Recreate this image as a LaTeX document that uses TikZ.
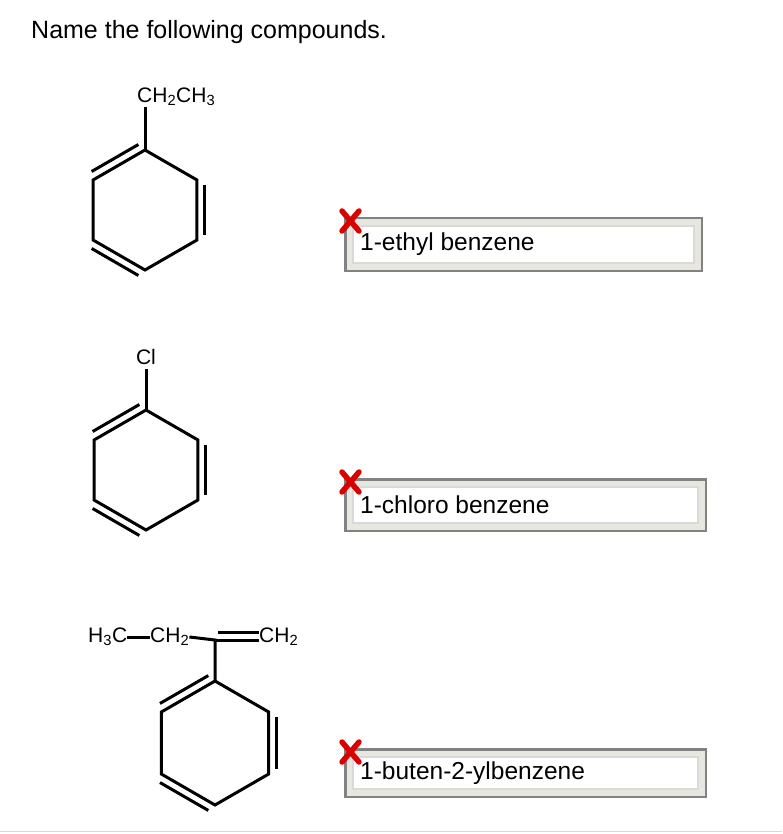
\documentclass[tikz,border=0pt]{standalone}
\usepackage{fontspec}
\setmainfont{Liberation Sans}
\usetikzlibrary{calc}
\begin{document}
\begin{tikzpicture}[x=1pt,y=-1pt,
  bond/.style={line width=3pt},
  lbl/.style={inner sep=0pt,font=\fontsize{21}{24}\selectfont},
  ans/.style={anchor=west,inner sep=0pt,font=\fontsize{24.5}{27}\selectfont},
  xmark/.style={line width=5.5pt,red!85!black,line cap=round}]
\useasboundingbox (0,0) rectangle (782,834);
\fill[white] (0,0) rectangle (782,834);
\node[anchor=west,inner sep=0pt,font=\fontsize{25}{28}\selectfont] (title) at (31,32) {Name the following compounds.};
\draw[gray!30,line width=1pt] (0,831) -- (782,831);
\foreach \cx/\cy/\r/\nm in {145/210/60/a,146/470/60/b,215/743/62/c}{
  \coordinate (\nm1) at (\cx,\cy-\r);
  \coordinate (\nm2) at (\cx+0.866*\r,\cy-0.5*\r);
  \coordinate (\nm3) at (\cx+0.866*\r,\cy+0.5*\r);
  \coordinate (\nm4) at (\cx,\cy+\r);
  \coordinate (\nm5) at (\cx-0.866*\r,\cy+0.5*\r);
  \coordinate (\nm6) at (\cx-0.866*\r,\cy-0.5*\r);
  \draw[bond,line join=miter] (\nm1)--(\nm2)--(\nm3)--(\nm4)--(\nm5)--(\nm6)--cycle;
  \draw[bond] ($(\nm6)!0.05!(\nm1)+(-4,-7)$) -- ($(\nm6)!0.95!(\nm1)+(-4,-7)$);
  \draw[bond] ($(\nm2)!0.08!(\nm3)+(8,0)$) -- ($(\nm2)!0.92!(\nm3)+(8,0)$);
  \draw[bond] ($(\nm4)!0.05!(\nm5)+(-4,7)$) -- ($(\nm4)!0.95!(\nm5)+(-4,7)$);
}
\node[lbl,anchor=west] (s1) at (137,97) {CH\textsubscript{2}CH\textsubscript{3}};
\draw[bond] (a1) -- (145,107);
\node[lbl] (s2) at (146,357) {Cl};
\draw[bond] (b1) -- (146,369);
\node[lbl,anchor=west] (h3c) at (88,637) {H\textsubscript{3}C};
\node[lbl,anchor=west] (ch2a) at (150,637) {CH\textsubscript{2}};
\node[lbl,anchor=west] (ch2b) at (259,637) {CH\textsubscript{2}};
\coordinate (v) at (215,640);
\draw[bond] (h3c.east) -- (ch2a.west);
\draw[bond] (ch2a.east) -- (v) -- (c1);
\draw[bond] (v) -- (ch2b.west |- v);
\draw[bond] (218,632) -- (ch2b.west |- 0,632);
\foreach \yt/\yb/\xr/\txt/\nm in {217/272/703/1-ethyl benzene/A,478/532/707/1-chloro benzene/B,748/798/707/1-buten-2-ylbenzene/C}{
  \fill[gray!60!black!70] (344,\yt) rectangle (\xr,\yb);
  \fill[yellow!15!gray!25] (346.5,\yt+2.5) rectangle (\xr-2.5,\yb-2.5);
  \fill[gray!30] (352,\yt+8) rectangle (\xr-8,\yb-8);
  \fill[white] (354,\yt+10) rectangle (\xr-10,\yb-10);
  \node[ans] (\nm) at (360,{(\yt+\yb)/2}) {\txt};
  \draw[xmark] (342,\yt-6) -- (359,\yt+14);
  \draw[xmark] (359,\yt-6) -- (342,\yt+14);
}
\end{tikzpicture}
\end{document}
